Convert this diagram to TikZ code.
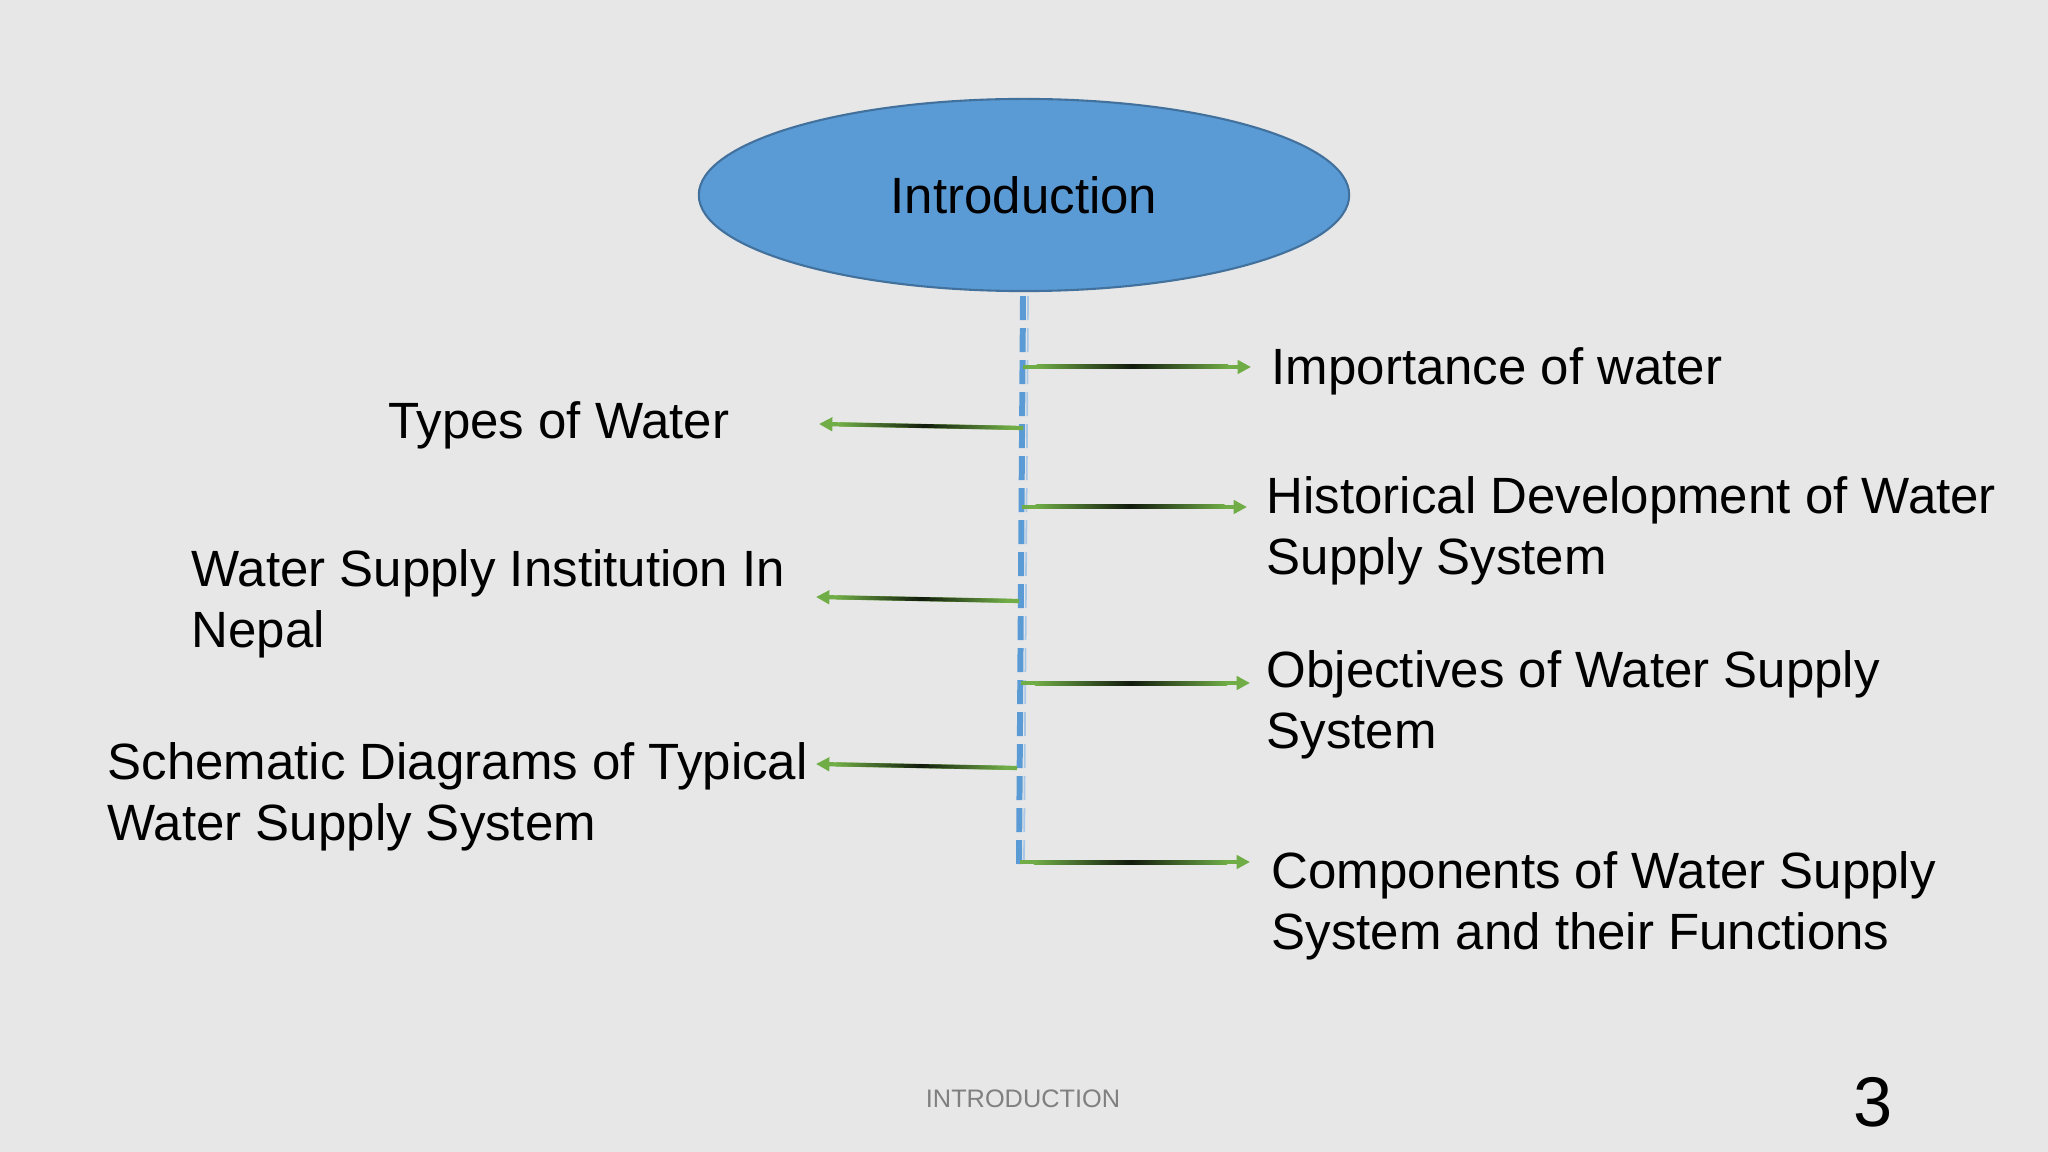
\documentclass[tikz,border=0pt]{standalone}
\usepackage{fontspec}
\setmainfont{Liberation Sans}
\usetikzlibrary{arrows.meta,shapes.geometric,calc}
\definecolor{bg}{HTML}{E8E7E7}
\definecolor{blu}{HTML}{5B9BD5}
\definecolor{bluedge}{HTML}{41719C}
\definecolor{bluelite}{HTML}{A9C8E8}
\definecolor{grn}{HTML}{70AD47}
\definecolor{dk}{HTML}{111A0C}
\definecolor{foot}{HTML}{808080}
\tikzset{
  lbl/.style={font=\fontsize{14.5}{17.4}\selectfont, align=left, inner sep=0pt, text=black},
  garrow/.style={draw=grn, line width=1.2pt, -{Triangle[length=3.8pt,width=3.8pt]}},
  gshade/.style={left color=grn, right color=grn, middle color=dk},
}
\newcommand{\gline}[2]{%
  \draw[garrow] (#1) -- (#2);
  \shade[gshade] ($(#1)!0.06!(#2)+(0,-2)$) -- ($(#1)!0.9!(#2)+(0,-2)$) -- ($(#1)!0.9!(#2)+(0,2)$) -- ($(#1)!0.06!(#2)+(0,2)$) -- cycle;
}
\begin{document}
\begin{tikzpicture}[x=0.01cm,y=-0.01cm]
\fill[bg] (0,0) rectangle (2048,1152);
\useasboundingbox (0,0) rectangle (2048,1152);

% central ellipse
\node[ellipse, draw=bluedge, fill=blu, line width=0.6pt, inner sep=0pt,
      minimum width=6.5cm, minimum height=1.92cm, font=\fontsize{14.5}{17.4}\selectfont] (intro) at (1024,195) {Introduction};

% spine
\coordinate (bot) at (1019,864);
\draw[blu, line width=1.7pt, dash pattern=on 6.8pt off 2.3pt] (intro.south) ++(-1,4) coordinate (top) -- (bot);
\draw[bluelite, line width=0.5pt, dash pattern=on 6.8pt off 2.3pt] ($(top)+(5,0)$) coordinate (top2) -- ($(bot)+(5,0)$) coordinate (bot2);

% spine points and tips
\coordinate (r1s) at (1023,367); \coordinate (r1t) at (1251,367);
\coordinate (r2s) at (1022,507); \coordinate (r2t) at (1247,507);
\coordinate (r3s) at (1021,683); \coordinate (r3t) at (1250,683);
\coordinate (r4s) at (1020,862); \coordinate (r4t) at (1250,862);
\coordinate (l1s) at (1023,428); \coordinate (l1t) at (819,424);
\coordinate (l2s) at (1019,601); \coordinate (l2t) at (816,597);
\coordinate (l3s) at (1017,768); \coordinate (l3t) at (816,764);

\gline{r1s}{r1t}
\gline{r2s}{r2t}
\gline{r3s}{r3t}
\gline{r4s}{r4t}
\gline{l1s}{l1t}
\gline{l2s}{l2t}
\gline{l3s}{l3t}

% right labels
\node[lbl, anchor=west] (imp) at (1271,371) {Importance of water};
\node[lbl, anchor=west] (hist) at (1266,531) {Historical Development of Water\\Supply System};
\node[lbl, anchor=west] (obj) at (1266,705) {Objectives of Water Supply\\System};
\node[lbl, anchor=west] (comp) at (1271,906) {Components of Water Supply\\System and their Functions};

% left labels
\node[lbl, anchor=east] (types) at (730,425) {Types of Water};
\node[lbl, anchor=west] (inst) at (191,604) {Water Supply Institution In\\Nepal};
\node[lbl, anchor=west] (schem) at (107,797) {Schematic Diagrams of Typical\\Water Supply System};

% footer
\node[font=\fontsize{7.2}{8.6}\selectfont, text=foot, inner sep=0pt] (footer) at (1023,1099) {INTRODUCTION};
\node[font=\fontsize{20}{24}\selectfont, inner sep=0pt] (pnum) at (1873,1102) {3};
\end{tikzpicture}
\end{document}
